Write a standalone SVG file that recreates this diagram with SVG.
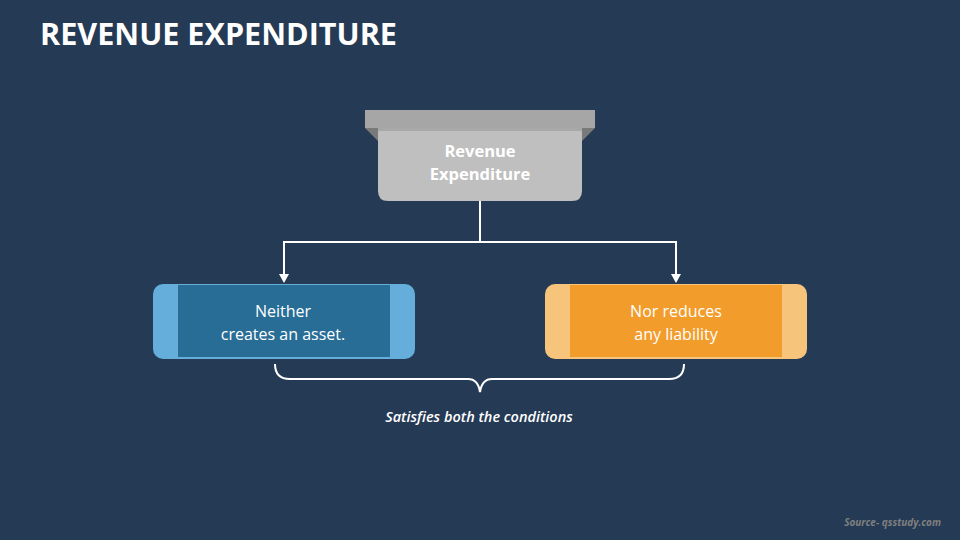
<svg xmlns="http://www.w3.org/2000/svg" width="960" height="540" viewBox="0 0 960 540">
<style>
.t{font-family:"Open Sans","Liberation Sans",sans-serif;fill:#fff;text-anchor:middle}
.c{fill:none;stroke:#fff;stroke-width:2}
</style>
<rect width="960" height="540" fill="#253a54"/>
<text x="40" y="45" font-family="'Open Sans','Liberation Sans',sans-serif" font-weight="bold" font-size="30" fill="#fff" textLength="357" lengthAdjust="spacingAndGlyphs">REVENUE EXPENDITURE</text>
<g id="connectors">
<path class="c" d="M480,201 V242 H284 V276"/>
<path class="c" d="M480,242 H676 V276"/>
<path d="M279,274 L289,274 L284,283 Z" fill="#fff"/>
<path d="M671,274 L681,274 L676,283 Z" fill="#fff"/>
<path class="c" d="M275,364 Q275,379 290,379 H468 Q478,379 480,392 Q482,379 492,379 H669 Q684,379 684,364"/>
</g>
<g id="top">
<path d="M365,128 L595,128 L582,141 L378,141 Z" fill="#7a7a7a"/>
<path d="M378,128 H582 V191 Q582,201 572,201 H388 Q378,201 378,191 Z" fill="#bfbfbf"/>
<rect x="365" y="110" width="230" height="18" fill="#a6a6a6"/>
<rect x="378" y="128" width="204" height="3" fill="#999" opacity="0.6"/>
<text class="t" x="480" y="157" font-size="16.5" font-weight="bold">Revenue</text>
<text class="t" x="480" y="180" font-size="16.5" font-weight="bold">Expenditure</text>
</g>
<g id="left">
<rect x="153" y="284" width="262" height="75" rx="10" fill="#65aedb"/>
<rect x="178" y="285" width="212" height="72" fill="#286d96"/>
<text class="t" x="283" y="317" font-size="16">Neither</text>
<text class="t" x="283" y="340" font-size="16">creates an asset.</text>
</g>
<g id="right">
<rect x="545" y="284" width="262" height="75" rx="10" fill="#f7c47c"/>
<rect x="570" y="285" width="212" height="72" fill="#f29c2b"/>
<text class="t" x="676" y="317" font-size="16">Nor reduces</text>
<text class="t" x="676" y="340" font-size="16">any liability</text>
</g>
<text class="t" x="479" y="422" font-size="14.5" font-weight="600" font-style="italic">Satisfies both the conditions</text>
<text x="941" y="526" text-anchor="end" font-family="'Open Sans','Liberation Sans',sans-serif" font-size="10" font-weight="bold" font-style="italic" fill="#7f7f7f">Source- qsstudy.com</text>
</svg>
